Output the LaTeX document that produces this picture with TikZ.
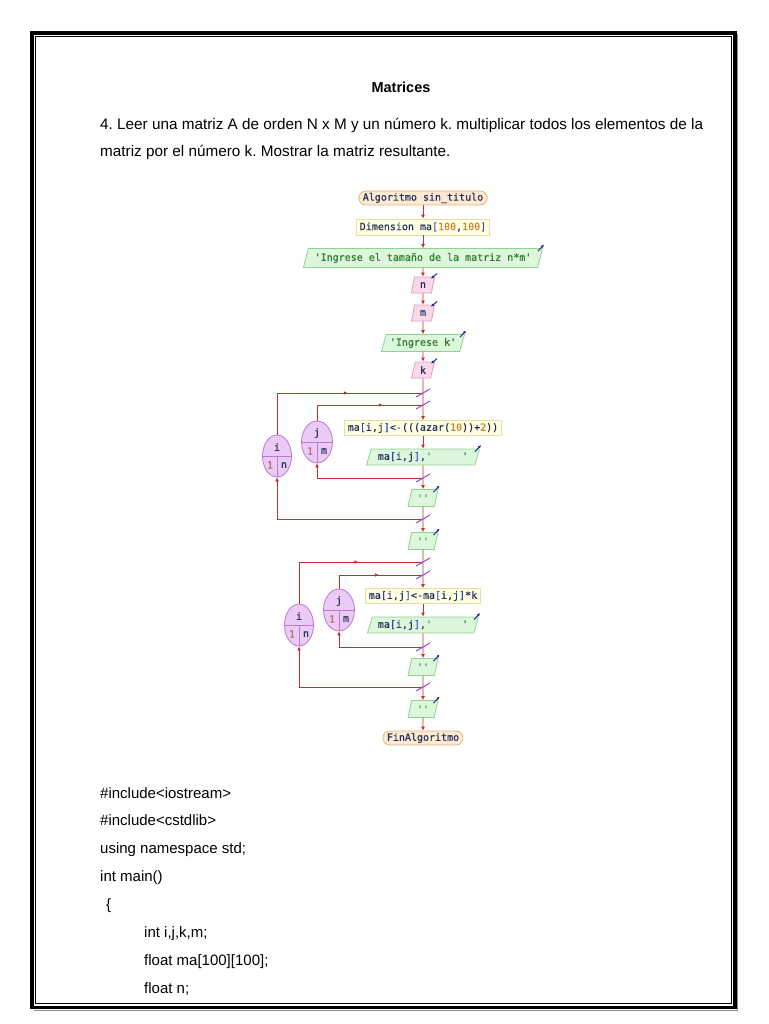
\documentclass[tikz,border=0pt]{standalone}
\usepackage{fontspec}
\setmainfont{Liberation Sans}
\newfontfamily\flowfont{DejaVu Sans Mono}[Ligatures=TeXOff, FakeBold=0.6]
\usetikzlibrary{shapes.geometric,arrows.meta,decorations.markings}
\definecolor{conn}{HTML}{CC2B2B}
\definecolor{slashc}{HTML}{9B3FD0}
\definecolor{markblue}{HTML}{1F2F8F}
\definecolor{kw}{HTML}{25325C}
\definecolor{brk}{HTML}{2F3FD0}
\definecolor{num}{HTML}{D0823A}
\definecolor{str}{HTML}{2F7F2F}
\definecolor{onec}{HTML}{B06A6A}
\definecolor{termfill}{HTML}{FCEAD2}
\definecolor{termdraw}{HTML}{E3B57A}
\definecolor{procfill}{HTML}{FFFFE2}
\definecolor{procdraw}{HTML}{E8DFA0}
\definecolor{outfill}{HTML}{DDF7DD}
\definecolor{outdraw}{HTML}{8ED48E}
\definecolor{infill}{HTML}{F9D9EA}
\definecolor{indraw}{HTML}{DDA0C4}
\definecolor{loopfill}{HTML}{EBCBF6}
\definecolor{loopdraw}{HTML}{B57BD0}
\tikzset{
  txt/.style={font=\fontsize{15}{18}\selectfont, anchor=base west, inner sep=0pt},
  ff/.style={font=\flowfont\fontsize{10}{12}\selectfont, text=kw},
  term/.style={ff, draw=termdraw, fill=termfill, line width=0.8pt, rounded corners=7pt, minimum height=14pt, inner xsep=4pt, inner ysep=1pt},
  proc/.style={ff, draw=procdraw, fill=procfill, line width=0.8pt, minimum height=16pt, inner xsep=3pt, inner ysep=1pt},
  para/.style={ff, trapezium, trapezium left angle=68, trapezium right angle=112, trapezium stretches body, line width=0.8pt, inner xsep=1pt, inner ysep=1pt},
  outp/.style={para, draw=outdraw, fill=outfill},
  inp/.style={para, draw=indraw, fill=infill},
  loopnode/.style={ellipse, draw=loopdraw, fill=loopfill, line width=0.8pt, minimum width=29pt, minimum height=42pt, inner sep=0pt},
  looplbl/.style={ff, inner sep=0pt},
  flow/.style={draw=conn, line width=0.9pt, -{Latex[length=4pt,width=4pt]}},
  back/.style={draw=conn, line width=0.9pt},
  slashmk/.style={draw=slashc, line width=1pt},
  iomk/.style={draw=markblue, line width=1pt, -{Latex[length=3pt,width=3pt]}},
  midarrow/.style={postaction={decorate,decoration={markings,mark=at position #1 with {\arrow{Latex[length=4pt,width=3.5pt]}}}}},
}
\frenchspacing
\begin{document}
\begin{tikzpicture}[x=1pt,y=-1pt]
\useasboundingbox (0,0) rectangle (768,1024);
% page border
\draw[black!45, line width=1.2pt] (737.6,34) -- (737.6,1010.6) -- (34,1010.6);
\draw[line width=3.5pt] (31.8,32.8) rectangle (734.8,1007.7);
\draw[line width=0.8pt] (35.3,36.3) rectangle (731.5,1003.5);
% texts
\node[font=\bfseries\fontsize{14.5}{17}\selectfont, anchor=base, inner sep=0pt] (title) at (401,93) {Matrices};
\node[txt, font=\fontsize{15.3}{18}\selectfont] (l1) at (100,129.5) {4. Leer una matriz A de orden N x M y un número k. multiplicar todos los elementos de la};
\node[txt, font=\fontsize{15.3}{18}\selectfont] (l2) at (100,157) {matriz por el número k. Mostrar la matriz resultante.};
\node[txt] (c1) at (100,798) {\#include<iostream>};
\node[txt] (c2) at (100,825.9) {\#include<cstdlib>};
\node[txt] (c3) at (100,853.7) {using namespace std;};
\node[txt] (c4) at (100,881.6) {int main()};
\node[txt] (c5) at (106,909.4) {\{};
\node[txt] (c6) at (144,937.3) {int i,j,k,m;};
\node[txt] (c7) at (144,965.1) {float ma[100][100];};
\node[txt] (c8) at (144,993) {float n;};
% flowchart nodes
\node[term] (start) at (423,198) {Algoritmo sin\_titulo};
\node[proc] (dim) at (423,227) {Dimension ma\textcolor{brk}{[}\textcolor{num}{100},\textcolor{num}{100}\textcolor{brk}{]}};
\node[outp, minimum width=239pt, minimum height=19pt] (o1) at (423,258) {\textcolor{str}{'Ingrese el tamaño de la matriz n*m'}};
\node[inp, minimum width=23pt, minimum height=16pt] (n) at (423,285) {n};
\node[inp, minimum width=23pt, minimum height=16pt] (m) at (423,313) {m};
\node[outp, minimum width=83pt, minimum height=17pt] (o2) at (423,343) {\textcolor{str}{'Ingrese k'}};
\node[inp, minimum width=23pt, minimum height=16pt] (k) at (423,370) {k};
\node[proc, minimum height=15pt] (p1) at (423,428) {ma\textcolor{brk}{[}i,j\textcolor{brk}{]}<-(((azar(\textcolor{num}{10}))+\textcolor{num}{2}))};
\node[outp, minimum width=113pt, minimum height=16pt] (o3) at (423,457) {ma\textcolor{brk}{[}i,j\textcolor{brk}{]},\textcolor{str}{'\ \ \ \ \ '}};
\node[outp, minimum width=30pt, minimum height=17pt] (e1) at (423,498) {\textcolor{str}{''}};
\node[outp, minimum width=30pt, minimum height=17pt] (e2) at (423,541) {\textcolor{str}{''}};
\node[proc, minimum height=15pt] (p2) at (423,596) {ma\textcolor{brk}{[}i,j\textcolor{brk}{]}<-ma\textcolor{brk}{[}i,j\textcolor{brk}{]}*k};
\node[outp, minimum width=111pt, minimum height=16pt] (o4) at (423,625) {ma\textcolor{brk}{[}i,j\textcolor{brk}{]},\textcolor{str}{'\ \ \ \ \ '}};
\node[outp, minimum width=30pt, minimum height=17pt] (e3) at (423,667) {\textcolor{str}{''}};
\node[outp, minimum width=30pt, minimum height=17pt] (e4) at (423,709) {\textcolor{str}{''}};
\node[term] (fin) at (423,738) {FinAlgoritmo};
% loop ellipses
\node[loopnode] (i1) at (277,456) {};
\node[loopnode, minimum width=31pt] (j1) at (317,442) {};
\node[loopnode] (i2) at (299,625) {};
\node[loopnode, minimum width=31pt] (j2) at (339,610) {};
\foreach \e/\v/\hi in {i1/i/n, j1/j/m, i2/i/n, j2/j/m}{
  \draw[loopdraw, line width=0.8pt] (\e.west) -- (\e.east);
  \draw[loopdraw, line width=0.8pt] (\e.center) -- (\e.south);
  \node[looplbl] (\e v) at ([shift={(0,-9)}]\e.center) {\v};
  \node[looplbl, text=onec] (\e a) at ([shift={(-7,9)}]\e.center) {1};
  \node[looplbl] (\e b) at ([shift={(7,9)}]\e.center) {\hi};
}
% junctions
\coordinate (jA) at (423,393);
\coordinate (jB) at (423,405);
\coordinate (jC) at (423,478);
\coordinate (jD) at (423,519);
\coordinate (jE) at (423,562);
\coordinate (jF) at (423,575);
\coordinate (jG) at (423,647);
\coordinate (jH) at (423,687);
% main flow
\draw[flow] (start) -- (dim);
\draw[flow] (dim) -- (o1);
\draw[flow] (o1) -- (n);
\draw[flow] (n) -- (m);
\draw[flow] (m) -- (o2);
\draw[flow] (o2) -- (k);
\draw[flow] (k) -- (p1);
\draw[flow] (p1) -- (o3);
\draw[flow] (o3) -- (e1);
\draw[flow] (e1) -- (e2);
\draw[flow] (e2) -- (p2);
\draw[flow] (p2) -- (o4);
\draw[flow] (o4) -- (e3);
\draw[flow] (e3) -- (e4);
\draw[flow] (e4) -- (fin);
% loop connectors
\draw[back, midarrow=0.6] (i1.north) |- (jA);
\draw[back, midarrow=0.67] (j1.north) |- (jB);
\draw[back, -{Latex[length=4pt,width=4pt]}] (jC) -| (j1.south);
\draw[back, -{Latex[length=4pt,width=4pt]}] (jD) -| (i1.south);
\draw[back, midarrow=0.61] (i2.north) |- (jE);
\draw[back, midarrow=0.55] (j2.north) |- (jF);
\draw[back, -{Latex[length=4pt,width=4pt]}] (jG) -| (j2.south);
\draw[back, -{Latex[length=4pt,width=4pt]}] (jH) -| (i2.south);
\foreach \c in {jA,jB,jC,jD,jE,jF,jG,jH}
  \draw[slashmk] ([shift={(-7,4)}]\c) -- ([shift={(7,-4)}]\c);
% io markers
\foreach \o in {o1,o2,o3,o4,e1,e2,e3,e4}
  \draw[iomk] ([shift={(-5,3)}]\o.top right corner) -- ([shift={(1,-3.5)}]\o.top right corner);
\foreach \o in {n,m,k}
  \draw[iomk] ([shift={(2,-3)}]\o.top right corner) -- ([shift={(-4,2)}]\o.top right corner);
\end{tikzpicture}
\end{document}
